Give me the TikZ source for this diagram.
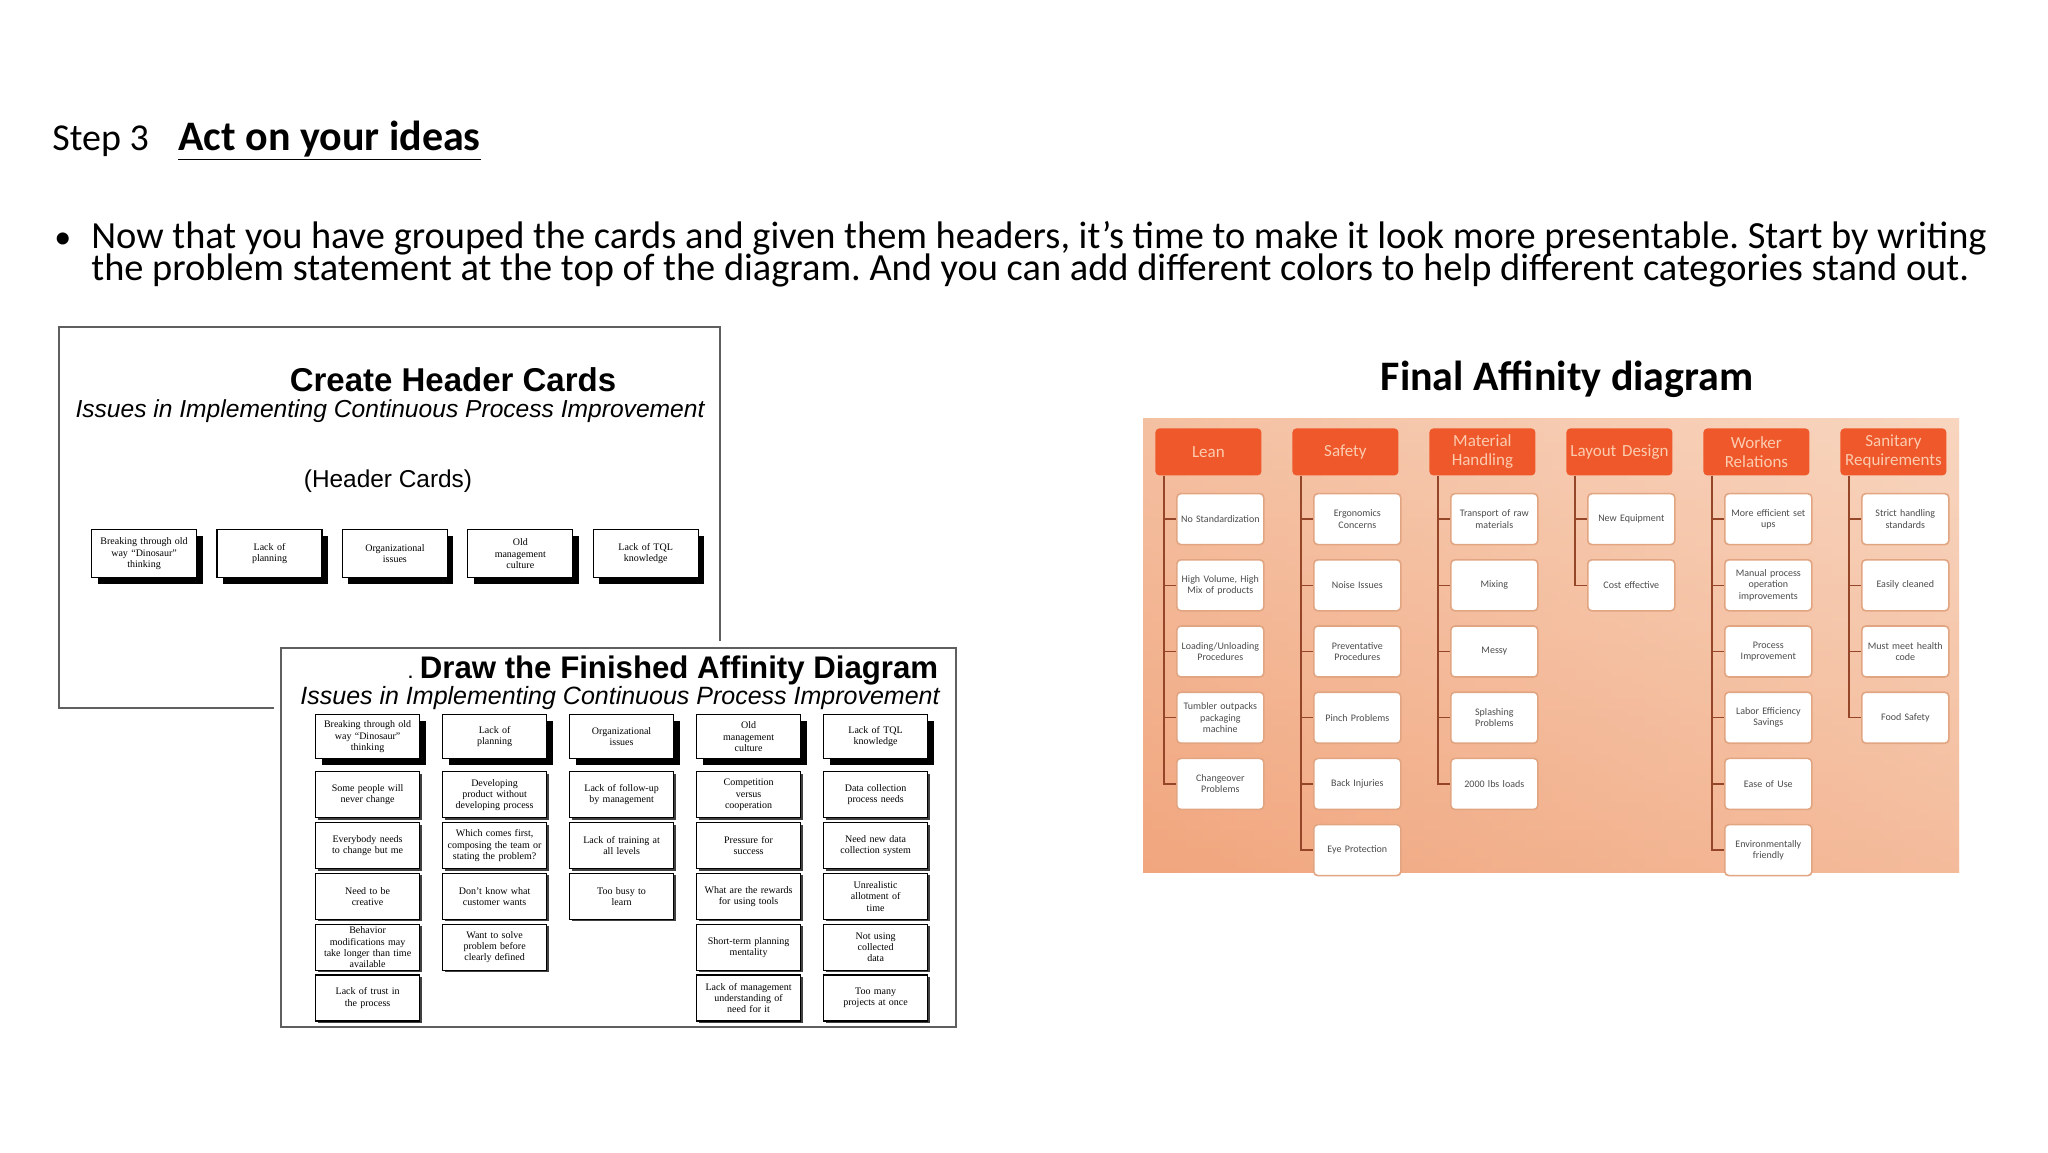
\documentclass[tikz,border=0pt]{standalone}
\usepackage{fontspec}
\setmainfont{Carlito}
\newfontfamily\arialfont{Liberation Sans}
\newfontfamily\timesfont{Liberation Serif}
\usetikzlibrary{positioning, shadows}
\definecolor{hdrorange}{RGB}{238,88,42}
\definecolor{hdrtext}{RGB}{252,204,176}
\definecolor{leafline}{RGB}{226,165,130}
\definecolor{treeline}{RGB}{150,70,40}
\definecolor{bgtop}{RGB}{248,214,192}
\definecolor{bgbottom}{RGB}{241,166,126}
\definecolor{panelgray}{RGB}{95,95,95}
\newcommand\tightlines{\lineskiplimit=-30pt\relax}
\frenchspacing

\begin{document}
\begin{tikzpicture}[x=0.5pt, y=-0.5pt,
    txt/.style={inner sep=0pt},
    panel/.style={draw=panelgray, line width=1pt},
    card/.style={rectangle, draw, line width=0.6pt, fill=white, minimum width=52pt, minimum height=23pt, text width=49pt, align=center, inner sep=0pt, font=\timesfont\fontsize{5}{5.6}\selectfont},
    hcard/.style={card, drop shadow={shadow xshift=3pt, shadow yshift=-3pt, fill=black, opacity=1}},
    icard/.style={card, drop shadow={shadow xshift=1pt, shadow yshift=-1pt, fill=black!75, opacity=1}},
    catbox/.style={rectangle, fill=hdrorange, rounded corners=2pt, minimum width=53pt, minimum height=23.5pt, text width=52pt, align=center, inner sep=0pt, text=hdrtext, font=\fontsize{8.5}{9.5}\selectfont},
    leaf/.style={rectangle, draw=leafline, line width=0.8pt, fill=white, rounded corners=2pt, minimum width=43.5pt, minimum height=25.5pt, text width=43pt, align=center, inner sep=0pt, text=black!70, font=\fontsize{5}{5.6}\selectfont},
    tree/.style={draw=treeline, line width=0.7pt},
]
\useasboundingbox (0,0) rectangle (2048,1152);

% heading and bullet
\node[txt, anchor=base west, font=\fontsize{19}{22}\selectfont] (steplbl) at (52,150) {Step 3};
\node[txt, anchor=base west, font=\bfseries\fontsize{21}{24}\selectfont] (steptitle) at (178,150) {\underline{Act on your ideas}};
\node[txt, anchor=base west, font=\fontsize{17}{20}\selectfont] (bullet) at (54,248) {•};
\node[txt, anchor=base west, align=left, font=\fontsize{19.2}{16}\selectfont\tightlines] (bodytext) at (91,280) {Now that you have grouped the cards and given them headers, it’s time to make it look more presentable. Start by writing\\the problem statement at the top of the diagram. And you can add different colors to help different categories stand out.};

% left: header cards slide
\draw[panel] (59,327) rectangle (720,708);
\node[txt, anchor=base, font=\arialfont\bfseries\fontsize{16.5}{18}\selectfont] (hdrtitle) at (453,391) {Create Header Cards};
\node[txt, anchor=base, font=\arialfont\itshape\fontsize{12.3}{14}\selectfont] (hdrsub) at (390,417) {Issues in Implementing Continuous Process Improvement};
\node[txt, anchor=base, font=\arialfont\fontsize{12.2}{14}\selectfont] (hdrnote) at (388,487) {(Header Cards)};

\node[hcard, minimum width=52.5pt, minimum height=24pt, anchor=north west] (hc1) at (91,529) {Breaking through old\\way “Dinosaur”\\thinking};
\node[hcard, minimum width=52.5pt, minimum height=24pt, right=9.6pt of hc1] (hc2) {Lack of\\planning};
\node[hcard, minimum width=52.5pt, minimum height=24pt, right=9.6pt of hc2] (hc3) {Organizational\\issues};
\node[hcard, minimum width=52.5pt, minimum height=24pt, right=9.6pt of hc3] (hc4) {Old\\management\\culture};
\node[hcard, minimum width=52.5pt, minimum height=24pt, right=9.6pt of hc4] (hc5) {Lack of TQL\\knowledge};

% left: finished diagram slide
\fill[white] (274,641) rectangle (963,1034);
\draw[panel, fill=white] (281,648) rectangle (956,1027);
\node[txt, anchor=base west, font=\arialfont\bfseries\fontsize{15.6}{18}\selectfont] (fintitle) at (408,678) {{\fontsize{8}{8}\selectfont .}\hspace{3.5pt}Draw the Finished Affinity Diagram};
\node[txt, anchor=base, font=\arialfont\itshape\fontsize{12.5}{14}\selectfont] (finsub) at (620,704) {Issues in Implementing Continuous Process Improvement};

\begin{scope}[node distance=1.8pt]
\node[hcard, minimum height=22pt, anchor=north west] (c1) at (315,714) {Breaking through old\\way “Dinosaur”\\thinking};
\node[icard, below=6pt of c1] (c1a) {Some people will\\never change};
\node[icard, below=of c1a] (c1b) {Everybody needs\\to change but me};
\node[icard, below=of c1b] (c1c) {Need to be\\creative};
\node[icard, below=of c1c] (c1d) {Behavior\\modifications may\\take longer than time\\available};
\node[icard, below=of c1d] (c1e) {Lack of trust in\\the process};

\node[hcard, minimum height=22pt, right=10.9pt of c1] (c2) {Lack of\\planning};
\node[icard, below=6pt of c2] (c2a) {Developing\\product without\\developing process};
\node[icard, below=of c2a] (c2b) {Which comes first,\\composing the team or\\stating the problem?};
\node[icard, below=of c2b] (c2c) {Don’t know what\\customer wants};
\node[icard, below=of c2c] (c2d) {Want to solve\\problem before\\clearly defined};

\node[hcard, minimum height=22pt, right=10.9pt of c2] (c3) {Organizational\\issues};
\node[icard, below=6pt of c3] (c3a) {Lack of follow-up\\by management};
\node[icard, below=of c3a] (c3b) {Lack of training at\\all levels};
\node[icard, below=of c3b] (c3c) {Too busy to\\learn};

\node[hcard, minimum height=22pt, right=10.9pt of c3] (c4) {Old\\management\\culture};
\node[icard, below=6pt of c4] (c4a) {Competition\\versus\\cooperation};
\node[icard, below=of c4a] (c4b) {Pressure for\\success};
\node[icard, below=of c4b] (c4c) {What are the rewards\\for using tools};
\node[icard, below=of c4c] (c4d) {Short-term planning\\mentality};
\node[icard, below=of c4d] (c4e) {Lack of management\\understanding of\\need for it};

\node[hcard, minimum height=22pt, right=10.9pt of c4] (c5) {Lack of TQL\\knowledge};
\node[icard, below=6pt of c5] (c5a) {Data collection\\process needs};
\node[icard, below=of c5a] (c5b) {Need new data\\collection system};
\node[icard, below=of c5b] (c5c) {Unrealistic\\allotment of\\time};
\node[icard, below=of c5c] (c5d) {Not using\\collected\\data};
\node[icard, below=of c5d] (c5e) {Too many\\projects at once};
\end{scope}

% right: final affinity diagram
\node[txt, anchor=base, font=\bfseries\fontsize{21}{24}\selectfont] (finaltitle) at (1567,390) {Final Affinity diagram};
\shade[top color=bgtop, bottom color=bgbottom] (1143,418) rectangle (1959,872);
\shade[left color=bgbottom, right color=bgtop, opacity=0.45] (1143,418) rectangle (1959,872);

\begin{scope}[node distance=6.8pt and 15.1pt]
\node[catbox, anchor=north west] (lean) at (1155,428) {Lean};
\node[catbox, right=of lean] (safety) {Safety};
\node[catbox, right=of safety] (mat) {Material\\Handling};
\node[catbox, right=of mat] (layout) {Layout Design};
\node[catbox, right=of layout] (worker) {Worker\\Relations};
\node[catbox, right=of worker] (sanit) {Sanitary\\Requirements};

\node[leaf, anchor=north west] (lean1) at ([xshift=10.5pt, yshift=-8.5pt]lean.south west) {No Standardization};
\node[leaf, below=of lean1] (lean2) {High Volume, High\\Mix of products};
\node[leaf, below=of lean2] (lean3) {Loading/Unloading\\Procedures};
\node[leaf, below=of lean3] (lean4) {Tumbler outpacks\\packaging\\machine};
\node[leaf, below=of lean4] (lean5) {Changeover\\Problems};

\node[leaf, anchor=north west] (safety1) at ([xshift=10.5pt, yshift=-8.5pt]safety.south west) {Ergonomics\\Concerns};
\node[leaf, below=of safety1] (safety2) {Noise Issues};
\node[leaf, below=of safety2] (safety3) {Preventative\\Procedures};
\node[leaf, below=of safety3] (safety4) {Pinch Problems};
\node[leaf, below=of safety4] (safety5) {Back Injuries};
\node[leaf, below=of safety5] (safety6) {Eye Protection};

\node[leaf, anchor=north west] (mat1) at ([xshift=10.5pt, yshift=-8.5pt]mat.south west) {Transport of raw\\materials};
\node[leaf, below=of mat1] (mat2) {Mixing};
\node[leaf, below=of mat2] (mat3) {Messy};
\node[leaf, below=of mat3] (mat4) {Splashing\\Problems};
\node[leaf, below=of mat4] (mat5) {2000 lbs loads};

\node[leaf, anchor=north west] (layout1) at ([xshift=10.5pt, yshift=-8.5pt]layout.south west) {New Equipment};
\node[leaf, below=of layout1] (layout2) {Cost effective};

\node[leaf, anchor=north west] (worker1) at ([xshift=10.5pt, yshift=-8.5pt]worker.south west) {More efficient set\\ups};
\node[leaf, below=of worker1] (worker2) {Manual process\\operation\\improvements};
\node[leaf, below=of worker2] (worker3) {Process\\Improvement};
\node[leaf, below=of worker3] (worker4) {Labor Efficiency\\Savings};
\node[leaf, below=of worker4] (worker5) {Ease of Use};
\node[leaf, below=of worker5] (worker6) {Environmentally\\friendly};

\node[leaf, anchor=north west] (sanit1) at ([xshift=10.5pt, yshift=-8.5pt]sanit.south west) {Strict handling\\standards};
\node[leaf, below=of sanit1] (sanit2) {Easily cleaned};
\node[leaf, below=of sanit2] (sanit3) {Must meet health\\code};
\node[leaf, below=of sanit3] (sanit4) {Food Safety};
\end{scope}

\foreach \c/\n in {lean/5, safety/6, mat/5, layout/2, worker/6, sanit/4}
    \foreach \k in {1,...,\n}
        \draw[tree] ([xshift=4.5pt]\c.south west) |- (\c\k.west);
\end{tikzpicture}
\end{document}
